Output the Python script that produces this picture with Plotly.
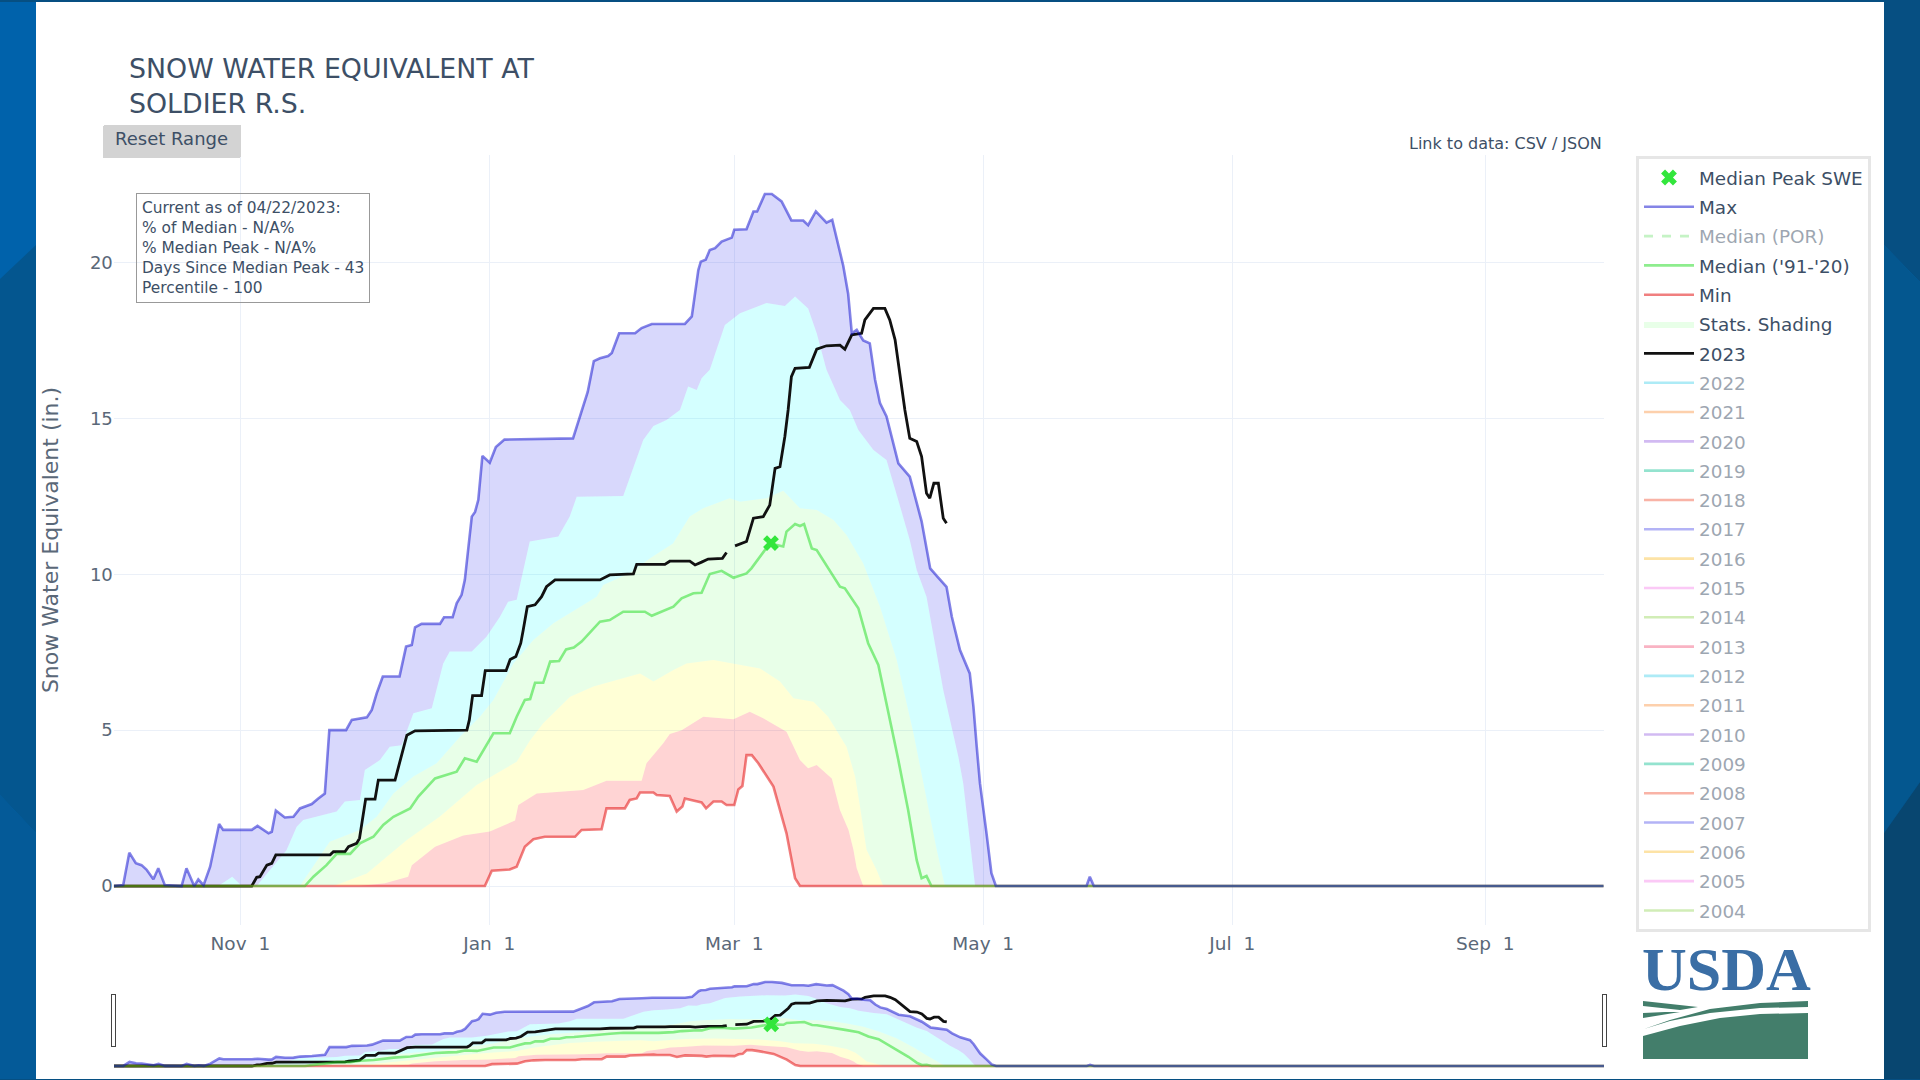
import pandas as pd
import plotly.graph_objects as go

# Water year start, the site plots every year on a leap-year axis
start = pd.Timestamp("2015-10-01")

max_days = [0, 2.3, 3.8, 5.4, 6.8, 8, 9.7, 10.9, 12.5, 16.6, 17.8, 19.7, 20.7, 22, 23.6, 25.8, 26.8, 33.8, 35.2,
            37.9, 38.7, 39.7, 41.9, 44, 45.6, 48.5, 50.1, 51.7, 52.8, 56.9, 58.3, 62, 63.2, 64.4, 65.9, 70, 71.6,
            73, 73.8, 75.4, 79.9, 80.9, 83, 84, 85.2, 86, 87.7, 88.5, 89.3, 90.3, 92.1, 93.6, 95.7, 112.5, 116.1,
            117.6, 119.1, 121.1, 122, 123.8, 127.7, 129.3, 131.8, 139.9, 141.6, 143.2, 143.8, 145, 146, 147.3,
            148.9, 151.4, 152, 155, 156.7, 157.6, 159.5, 161.2, 163.6, 166, 168.9, 170.1, 172, 174.6, 176, 178.7,
            179.9, 180.8, 182, 183.6, 185.2, 186.5, 187.7, 189.3, 192.2, 195, 197.9, 200, 201.6, 204, 205.3,
            207.3, 209.7, 210.6, 211.4, 212.2, 213.8, 215, 216.1, 238.3, 239.1, 240.1, 365]
max_swe = [0, 0.03, 1.07, 0.73, 0.67, 0.53, 0.22, 0.57, 0.03, 0, 0.57, 0, 0.21, 0.03, 0.62, 1.99, 1.8, 1.8, 1.93,
           1.69, 1.74, 2.42, 2.2, 2.22, 2.49, 2.63, 2.81, 2.97, 5.0, 5.0, 5.33, 5.41, 5.65, 6.18, 6.72, 6.72, 7.68,
           7.73, 8.3, 8.41, 8.41, 8.62, 8.62, 9.07, 9.34, 9.82, 11.85, 12.0, 12.39, 13.8, 13.58, 14.08, 14.32,
           14.36, 15.85, 16.84, 16.93, 17.0, 17.1, 17.73, 17.73, 17.9, 18.03, 18.03, 18.27, 19.76, 20.03, 20.09,
           20.4, 20.46, 20.67, 20.8, 21.05, 21.07, 21.64, 21.64, 22.2, 22.2, 21.96, 21.35, 21.35, 21.2, 21.64,
           21.28, 21.37, 19.9, 19.0, 17.73, 17.84, 17.5, 17.41, 16.24, 15.49, 15.06, 13.56, 13.13, 11.7, 10.19,
           9.95, 9.6, 8.64, 7.57, 6.82, 5.75, 4.47, 3.29, 1.69, 0.41, 0, 0, 0.3, 0, 0]

median_days = [0, 46.8, 48.9, 52.1, 54.6, 57.9, 60.3, 63.6, 66, 68.5, 72.6, 74.6, 78.7, 82, 84, 86, 88.9, 93, 97,
               98.7, 100.7, 102, 103.2, 105.2, 106.9, 109.1, 110.8, 112.7, 114.6, 119.1, 121.5, 124.8, 130.1,
               131.8, 133.4, 137.1, 139.1, 142, 144, 146, 148.9, 151.8, 155, 156.2, 160.7, 164, 164.8, 166.9,
               168.1, 169.1, 171, 172.2, 177.9, 179.1, 182.4, 184.8, 187.3, 190.5, 192.2, 194.6, 196.7, 197.9,
               199.1, 200.3, 365]
median_swe = [0, 0, 0.3, 0.67, 1.03, 1.03, 1.37, 1.58, 1.96, 2.22, 2.49, 2.87, 3.45, 3.59, 3.67, 4.1, 3.99, 4.9,
              4.9, 5.43, 5.97, 6.0, 6.52, 6.52, 7.2, 7.22, 7.59, 7.65, 7.84, 8.48, 8.53, 8.8, 8.8, 8.67, 8.75,
              8.96, 9.23, 9.39, 9.41, 10.01, 10.11, 9.89, 10.03, 10.19, 10.99, 10.89, 11.37, 11.61, 11.55, 11.61,
              10.83, 10.78, 9.6, 9.55, 8.91, 7.79, 7.09, 5.11, 4.04, 2.44, 0.83, 0.25, 0.32, 0, 0]

min_days = [0, 90.9, 92.6, 97, 98.7, 100.7, 102.8, 105.6, 113, 114.6, 119.5, 120.7, 125.2, 126.4, 128.1, 128.9,
            132.2, 133, 136.2, 137.9, 139.3, 139.9, 144, 145.1, 146.9, 148.9, 150.1, 152, 153, 154, 155, 156.3,
            157.9, 161.6, 164.8, 166.9, 168.1, 365]
min_swe = [0, 0, 0.49, 0.53, 0.62, 1.26, 1.5, 1.58, 1.58, 1.8, 1.82, 2.49, 2.49, 2.76, 2.81, 3.0, 3.0, 2.92, 2.89,
           2.39, 2.55, 2.81, 2.68, 2.49, 2.71, 2.71, 2.6, 2.6, 3.1, 3.21, 4.2, 4.2, 3.94, 3.19, 1.69, 0.25, 0, 0]

# 2023 has no value for the leap day, so the line breaks there
wy2023_days = [0, 33.8, 35, 35.8, 37.5, 38.7, 39.7, 53, 53.8, 56.6, 57.5, 59.5, 60.2, 61.7, 64, 64.8, 68.9, 71.8,
               73.8, 86.5, 87.1, 87.9, 90.1, 91, 96.1, 97.1, 98.5, 99.7, 100.3, 101.3, 103.2, 104.8, 106, 108.1,
               119.1, 121.5, 127.3, 128.1, 135, 136.2, 141.1, 142.4, 144, 145.6, 149.1, 150.1, 151, 152.2, 155,
               156.7, 159.1, 160.7, 162, 163.2, 164.4, 165.2, 166, 166.9, 170.4, 172.2, 174.6, 177.9, 179.1, 180.8,
               183.2, 184, 186.1, 188.9, 190.1, 191.4, 193.8, 195, 196.7, 197.9, 199.1, 199.9, 200.9, 202, 203.2,
               204]
wy2023_swe = [0, 0, 0.28, 0.3, 0.67, 0.73, 1.0, 1.0, 1.1, 1.1, 1.26, 1.37, 1.53, 2.79, 2.79, 3.4, 3.4, 4.84, 4.98,
              5.0, 5.33, 6.11, 6.11, 6.91, 6.91, 7.27, 7.36, 7.79, 8.21, 8.96, 9.02, 9.28, 9.6, 9.82, 9.82, 9.98,
              10.01, 10.32, 10.32, 10.42, 10.42, 10.3, 10.39, 10.49, 10.51, 10.7, None, 10.91, 11.05, 11.8, 11.85,
              12.22, 13.4, 13.45, 14.42, 15.27, 16.34, 16.61, 16.64, 17.22, 17.33, 17.35, 17.22, 17.68, 17.73,
              18.16, 18.53, 18.53, 18.16, 17.52, 15.27, 14.36, 14.26, 13.78, 12.6, 12.44, 12.92, 12.92, 11.8, 11.64]

# Tops of the shaded percentile bands
p10_days = [0, 60, 66.4, 72.1, 73, 78.7, 85.6, 92.1, 98.3, 99.1, 103.6, 115, 120.7, 129.3, 130.5, 134.6, 136.2,
            139.1, 144.4, 151.8, 155.8, 159.1, 164.8, 168.1, 170.1, 172.2, 175.9, 177.9, 180, 181.2, 182, 183.6, 365]
p10_swe = [0, 0, 0.09, 0.3, 0.67, 1.26, 1.62, 1.75, 2.1, 2.6, 2.97, 3.08, 3.38, 3.38, 3.94, 4.58, 4.88,
           5.0, 5.43, 5.35, 5.59, 5.38, 4.95, 4.04, 3.78, 3.88, 3.45, 2.44, 1.8, 1.16, 0.57, 0, 0]

p30_days = [0, 53.8, 62, 71.8, 79.9, 88.9, 94.6, 98.7, 102, 105.2, 111.8, 117.5, 128.9, 132.2, 137.1, 140.3, 146.9,
            151.8, 158.3, 163.2, 166.5, 171.4, 175, 179.5, 181.6, 182.8, 184.4, 186.9, 188.5, 365]
p30_swe = [0, 0, 0.4, 1.48, 2.23, 3.24, 3.67, 3.99, 4.68, 5.22, 6.07, 6.4, 6.82, 6.56, 6.93, 7.14, 7.25, 7.14, 6.98,
           6.56, 6.02, 5.91, 5.43, 4.47, 3.51, 2.55, 1.16, 0.51, 0, 0]

p70_days = [0, 45.6, 52.9, 60.3, 64.4, 68.5, 73.4, 79.1, 84.8, 89.7, 93, 97.9, 102.8, 107.7, 118.3, 119.9, 126.4,
            131.3, 137, 141.1, 144.4, 150.9, 153.4, 159.9, 164, 168.1, 172.2, 176.3, 179.5, 183.6, 187.7, 191.8,
            195.9, 199.1, 201.6, 203.6, 365]
p70_swe = [0, 0, 1.42, 1.8, 2.22, 2.97, 3.51, 3.94, 4.79, 5.43, 5.97, 7.14, 7.89, 8.43, 9.28, 9.66, 10.03, 10.51,
           10.99, 11.85, 12.12, 12.44, 12.33, 12.44, 12.68, 12.12, 12.06, 11.74, 11.26, 10.35, 8.96, 7.25, 4.9,
           2.76, 1.16, 0, 0]

p90_days = [0, 25.5, 27, 29, 31, 32, 35, 42.3, 44.8, 46.4, 54.6, 56.6, 60.3, 61.5, 65.2, 67.6, 70.5, 73.4, 77.9,
            80.7, 82.3, 87.7, 91.3, 94.6, 96.6, 98.7, 101.9, 108.9, 111.7, 113.4, 124.8, 129.7, 132.2, 135.4, 138.7,
            140.7, 142.8, 144, 146, 149.7, 153.4, 159.9, 164.4, 166.9, 170.1, 172.2, 174.6, 177.9, 180.3, 182.4,
            186.1, 189.3, 192.4, 195, 196.7, 199.1, 203.2, 204.8, 206.9, 208.1, 209.7, 211, 365]
p90_swe = [0, 0, 0.12, 0.3, 0.05, 0, 0, 1.15, 1.9, 2.12, 2.39, 2.71, 2.76, 3.72, 4.04, 4.47, 4.52, 5.54, 5.7, 7.14,
           7.52, 7.52, 8.0, 8.64, 9.12, 9.18, 11.05, 11.21, 11.85, 12.49, 12.51, 14.31, 14.76, 14.95, 15.27, 16.02,
           15.91, 16.29, 16.56, 18.0, 18.37, 18.7, 18.61, 18.91, 18.53, 17.73, 16.56, 15.59, 15.27, 14.63, 13.99,
           13.67, 12.28, 11.1, 10.14, 9.28, 6.29, 5.33, 4.15, 3.29, 1.58, 0, 0]

peak_day = [161]
peak_swe = [11.0]

# Years that are switched off in the legend, name and colour
hidden_years = ["2022", "2021", "2020", "2019", "2018", "2017", "2016", "2015", "2014", "2013",
                "2012", "2011", "2010", "2009", "2008", "2007", "2006", "2005", "2004"]
hidden_colors = ["#5ed8ee", "#fca35c", "#a678e6", "#2cc8a0", "#f56a50", "#6a6aee", "#fdc850", "#f894ee", "#a4dc70",
                 "#f56a88", "#5ed8ee", "#fca35c", "#a678e6", "#2cc8a0", "#f56a50", "#6a6aee", "#fdc850", "#f894ee",
                 "#a4dc70"]

info_lines = ["Current as of 04/22/2023:", "% of Median - N/A%", "% Median Peak - N/A%",
              "Days Since Median Peak - 43", "Percentile - 100"]

FONT = "DejaVu Sans"
TEXT = "#3d4f66"
AXIS_TEXT = "#5a6878"
GRID = "#EBF0F8"

# The figure runs a bit past the window bottom so the range slider can sit low enough,
# the rangeslider also forces a left margin so it is set here
FIG_H = 1100
LEFT = 15


def to_dates(days):
    return start + pd.to_timedelta(days, unit="D")


# Pixel helpers for the page furniture, paper coordinates start after the left margin
def X(px):
    return (px - LEFT) / (1920 - LEFT)


def Y(px):
    return 1 - px / FIG_H


def path(points):
    return "M " + " L ".join(f"{X(a)} {Y(b)}" for a, b in points) + " Z"


fig = go.Figure()

# Shaded bands, each one fills down to the trace before it
fig.add_trace(go.Scatter(x=to_dates(min_days), y=min_swe, mode="lines", line=dict(width=0),
                         showlegend=False, hoverinfo="skip"))
bands = [
    (p10_days, p10_swe, "rgba(255,0,0,0.17)", False),
    (p30_days, p30_swe, "rgba(255,255,0,0.16)", False),
    (p70_days, p70_swe, "rgba(0,255,0,0.09)", True),
    (p90_days, p90_swe, "rgba(0,255,255,0.17)", False),
    (max_days, max_swe, "rgba(50,50,240,0.19)", False),
]
for days, values, color, in_legend in bands:
    fig.add_trace(go.Scatter(x=to_dates(days), y=values, mode="lines", line=dict(width=0), fill="tonexty",
                             fillcolor=color, name="Stats. Shading", legendgroup="Stats. Shading",
                             legendrank=6, showlegend=in_legend, hoverinfo="skip"))

# Lines, black goes under the statistics
fig.add_trace(go.Scatter(x=to_dates(wy2023_days), y=wy2023_swe, mode="lines", name="2023", legendgroup="2023",
                         legendrank=7, line=dict(color="#111111", width=2.8)))
fig.add_trace(go.Scatter(x=to_dates(min_days), y=min_swe, mode="lines", name="Min", legendgroup="Min",
                         legendrank=5, line=dict(color="rgba(225,0,0,0.5)", width=2.6)))
fig.add_trace(go.Scatter(x=to_dates(median_days), y=median_swe, mode="lines", name="Median ('91-'20)",
                         legendgroup="Median ('91-'20)", legendrank=4,
                         line=dict(color="rgba(30,220,30,0.5)", width=2.6)))
fig.add_trace(go.Scatter(x=to_dates(max_days), y=max_swe, mode="lines", name="Max", legendgroup="Max",
                         legendrank=2, line=dict(color="rgba(10,10,205,0.5)", width=2.6)))
fig.add_trace(go.Scatter(x=to_dates(peak_day), y=peak_swe, mode="markers", name="Median Peak SWE",
                         legendgroup="Median Peak SWE", legendrank=1,
                         marker=dict(symbol="x", size=14, color="#33e63c")))

# Switched off entries, only their legend rows show
fig.add_trace(go.Scatter(x=to_dates([0]), y=[None], mode="lines", name="Median (POR)", visible="legendonly",
                         legendgroup="Median (POR)", legendrank=3,
                         line=dict(color="#8de88d", width=2.6, dash="dash")))
for i, year in enumerate(hidden_years):
    fig.add_trace(go.Scatter(x=to_dates([0]), y=[None], mode="lines", name=year, visible="legendonly",
                             legendgroup=year, legendrank=8 + i, line=dict(color=hidden_colors[i], width=2.6)))

# Page background and white panel
shapes = [
    dict(type="path", path=path([(0, 0), (36, 0), (36, 245), (0, 279)]), fillcolor="#0062ab"),
    dict(type="path", path=path([(0, 279), (36, 245), (36, 833), (0, 795)]), fillcolor="#04568f"),
    dict(type="path", path=path([(0, 795), (36, 833), (36, 1080), (0, 1080)]), fillcolor="#045a98"),
    dict(type="path", path=path([(1884, 0), (1920, 0), (1920, 282), (1884, 245)]), fillcolor="#064f82"),
    dict(type="path", path=path([(1884, 245), (1920, 282), (1920, 782), (1884, 833)]), fillcolor="#04578f"),
    dict(type="path", path=path([(1884, 833), (1920, 782), (1920, 1080), (1884, 1080)]), fillcolor="#084670"),
    dict(type="rect", x0=X(0), x1=X(1920), y0=Y(0), y1=Y(2), fillcolor="#064f82"),
    dict(type="rect", x0=X(0), x1=X(1920), y0=Y(1079), y1=Y(1080), fillcolor="#064f82"),
    dict(type="rect", x0=X(36), x1=X(1884), y0=Y(2), y1=Y(1079), fillcolor="white"),
]

# USDA logo stripes and field
LOGO = "#437e6b"
shapes += [
    dict(type="path", fillcolor=LOGO, path=path([(1643, 1001), (1643, 1006), (1680, 1010), (1698, 1007)])),
    dict(type="path", fillcolor=LOGO, path=path([(1643, 1013), (1643, 1018), (1680, 1012), (1665, 1012)])),
    dict(type="path", fillcolor=LOGO, path=path([(1644, 1029), (1670, 1020), (1710, 1009), (1760, 1003), (1808, 1001),
                                                 (1808, 1007), (1760, 1008), (1710, 1013), (1670, 1021)])),
    dict(type="path", fillcolor=LOGO, path=path([(1643, 1036), (1680, 1026), (1720, 1018), (1760, 1014), (1808, 1013),
                                                 (1808, 1059), (1643, 1059)])),
]
for s in shapes:
    s.update(xref="paper", yref="paper", layer="below", line=dict(width=0))

annotations = [
    dict(text="<br>".join(info_lines), x=X(136), y=Y(193), xanchor="left", yanchor="top", align="left",
         showarrow=False, font=dict(size=15.4, color=TEXT), bordercolor="#999999", borderwidth=1, borderpad=5),
    dict(text="Link to data: CSV / JSON", x=X(1604), y=Y(143), xanchor="right", yanchor="middle",
         showarrow=False, font=dict(size=16, color=TEXT)),
    dict(text="<b>USDA</b>", x=X(1726), y=Y(969), xanchor="center", yanchor="middle", showarrow=False,
         font=dict(family="Liberation Serif", size=62, color="#3a6ea5")),
]
for a in annotations:
    a.update(xref="paper", yref="paper")

fig.update_layout(
    width=1920,
    height=FIG_H,
    autosize=False,
    margin=dict(l=LEFT, r=0, t=0, b=0),
    paper_bgcolor="#0062ab",
    plot_bgcolor="white",
    font=dict(family=FONT, color=TEXT),
    title=dict(text="SNOW WATER EQUIVALENT AT<br>SOLDIER R.S.", x=X(129), xanchor="left", xref="paper",
               y=Y(78), yanchor="top", yref="paper", automargin=False, font=dict(size=26.8, color=TEXT)),
    xaxis=dict(
        domain=[X(113.8), X(1603.7)],
        range=[to_dates([0])[0], to_dates([365])[0]],
        dtick="M2",
        tick0="2015-11-01",
        tickformat="%b %e",
        automargin=False,
        showgrid=True,
        gridcolor=GRID,
        zeroline=False,
        showline=False,
        ticks="",
        ticklabelstandoff=5,
        tickfont=dict(size=18.5, color=AXIS_TEXT),
        rangeslider=dict(visible=True, thickness=103 / FIG_H, bgcolor="white", borderwidth=0,
                         yaxis=dict(rangemode="fixed", range=[-1.32, 25.9])),
    ),
    yaxis=dict(
        domain=[Y(925), Y(155)],
        range=[-1.25, 23.45],
        tickvals=[0, 5, 10, 15, 20],
        automargin=False,
        showgrid=True,
        gridcolor=GRID,
        zeroline=False,
        ticks="",
        tickfont=dict(size=18, color=AXIS_TEXT),
        title=dict(text="Snow Water Equivalent (in.)", font=dict(size=22, color=AXIS_TEXT), standoff=25),
    ),
    legend=dict(
        x=X(1636),
        y=Y(156),
        xanchor="left",
        yanchor="top",
        traceorder="grouped",
        tracegroupgap=2.4,
        itemwidth=50,
        entrywidth=182,
        font=dict(size=18.4, color=TEXT),
        bgcolor="white",
        bordercolor="#e6e6e6",
        borderwidth=3,
    ),
    updatemenus=[dict(
        type="buttons",
        showactive=False,
        x=X(103),
        y=Y(125),
        xanchor="left",
        yanchor="top",
        pad=dict(l=0, r=0, t=0, b=0),
        bgcolor="#d3d3d3",
        borderwidth=0,
        font=dict(size=18, color=TEXT),
        buttons=[dict(label="Reset Range", method="relayout", args=[{"xaxis.autorange": True}])],
    )],
    shapes=shapes,
    annotations=annotations,
)

# Page default body margin would push the chart off the window, the extra figure height is cut off,
# and the slider's fixed y range would otherwise get a grey mask above the main axis range
fig.write_html(
    "out.html",
    config={"displayModeBar": False},
    post_script=(
        "document.body.style.margin = '0'; document.documentElement.style.overflow = 'hidden';"
        "document.querySelectorAll('.rangeslider-mask-min-opp-axis, .rangeslider-mask-max-opp-axis')"
        ".forEach(function (m) { m.style.display = 'none'; });"
    ),
)
